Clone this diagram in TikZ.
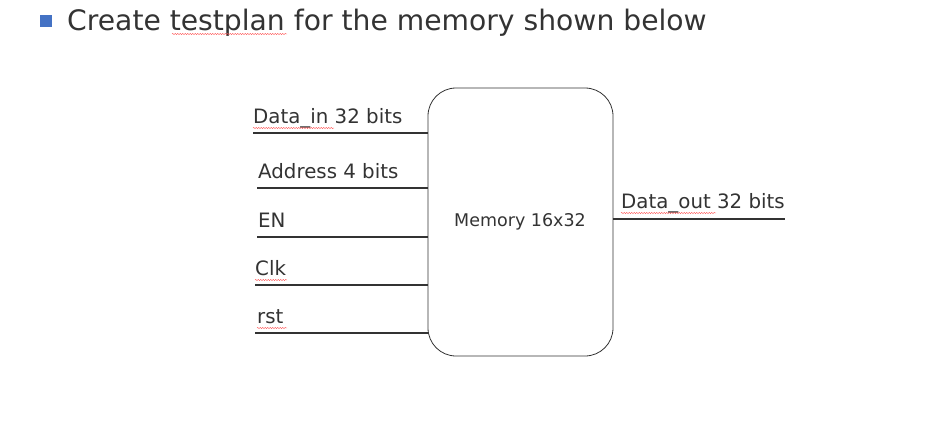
\documentclass[tikz,border=0pt]{standalone}
\usepackage{fontspec}
\setmainfont{DejaVu Sans}
\usetikzlibrary{decorations.pathmorphing}
\begin{document}
\begin{tikzpicture}[x=1pt,y=-1pt,
  lbl/.style={anchor=base west,inner sep=0pt,font=\fontsize{19.8}{22}\selectfont},
  wire/.style={line width=1.2pt,black!80},
  sq/.style={red!70,line width=0.4pt,decorate,decoration={snake,amplitude=0.6pt,segment length=2.5pt}}]
\useasboundingbox (0,0) rectangle (950,429);
\fill[fill={rgb,255:red,68;green,114;blue,196}] (40,15) rectangle (52,27);
\node[anchor=base west,inner sep=0pt,font=\fontsize{28.2}{30}\selectfont,text=black!80] (title) at (67,30) {Create testplan for the memory shown below};
\draw[sq] (172,34) -- (287,34);
\node[draw,black!80,line width=0.8pt,rounded corners=28pt,minimum width=185pt,minimum height=268pt] (mem) at (520.5,222) {};
\node[inner sep=0pt,font=\fontsize{17.5}{20}\selectfont,text=black!80] (ml) at (520,222) {Memory 16x32};
\coordinate (a1) at (253,133); \coordinate (a2) at (257,188); \coordinate (a3) at (257,237);
\coordinate (a4) at (255,285); \coordinate (a5) at (255,333); \coordinate (o) at (785,219);
\draw[wire] (a1) -- (a1 -| mem.west);
\draw[wire] (a2) -- (a2 -| mem.west);
\draw[wire] (a3) -- (a3 -| mem.west);
\draw[wire] (a4) -- (a4 -| mem.west);
\draw[wire] (a5) -- (a5 -| mem.west);
\draw[wire] (o -| mem.east) -- (o);
\node[lbl,text=black!80] (l1) at (253,123) {Data\_in 32 bits};
\node[lbl,text=black!80] (l2) at (258,178) {Address 4 bits};
\node[lbl,text=black!80] (l3) at (258,227) {EN};
\node[lbl,text=black!80] (l4) at (255,275) {Clk};
\node[lbl,text=black!80] (l5) at (257,323) {rst};
\node[lbl,text=black!80] (l6) at (621,208) {Data\_out 32 bits};
\draw[sq] (253,128) -- (334,128);
\draw[sq] (255,280) -- (287,280);
\draw[sq] (257,328) -- (287,328);
\draw[sq] (621,213) -- (716,213);
\end{tikzpicture}
\end{document}
